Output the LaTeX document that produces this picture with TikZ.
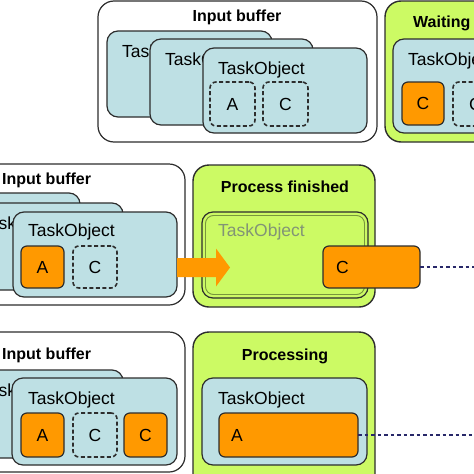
\documentclass[tikz,border=0pt]{standalone}
\usepackage{fontspec}
\setmainfont{Liberation Sans}
\definecolor{cardblue}{RGB}{190,224,228}
\definecolor{taskorange}{RGB}{255,153,0}
\definecolor{lime}{RGB}{204,250,100}
\definecolor{limerim}{RGB}{120,150,60}
\definecolor{edge}{RGB}{45,45,45}
\definecolor{navy}{RGB}{40,40,105}
\definecolor{fadetext}{RGB}{130,148,118}
\tikzset{
  rbox/.style={draw=edge, line width=1.2pt, inner sep=0pt, outer sep=0pt, anchor=north west},
  bufbox/.style={rbox, fill=white, rounded corners=16pt},
  stagebox/.style={rbox, fill=lime, line width=1.4pt, rounded corners=16pt},
  card/.style={rbox, fill=cardblue, rounded corners=11pt},
  donebox/.style={rbox, fill=lime, rounded corners=11pt},
  donerim/.style={rbox, draw=limerim, line width=0.9pt, rounded corners=8pt},
  slotfull/.style={rbox, fill=taskorange, rounded corners=6pt},
  slotempty/.style={rbox, draw=edge, dash pattern=on 4pt off 2.5pt, line width=1.6pt, rounded corners=6pt},
  title/.style={font=\fontsize{16}{19}\selectfont\bfseries, inner sep=0pt},
  lbl/.style={font=\fontsize{17.5}{20}\selectfont, inner sep=0pt, anchor=west},
  dotline/.style={draw=navy, line width=2pt, dash pattern=on 3.5pt off 3pt},
  movearrow/.style={fill=taskorange},
}
\newcommand\bx[7]{\node[#2, minimum width={#5-#3}, minimum height={#6-#4}] (#1) at (#3,#4) {#7};}
\begin{document}
\begin{tikzpicture}[x=1pt,y=-1pt]
\useasboundingbox (0,0) rectangle (474,474);
\clip (0,0) rectangle (474,474);
% ---------------- Row 1 ----------------
\bx{ibA}{bufbox}{98}{1}{377}{142}{}
\node[title] (ibAt) at (237,17) {Input buffer};
\bx{rAa}{card}{107}{31}{272}{117}{}
\node[lbl] (rAat) at (122,53) {TaskObject};
\bx{rAb}{card}{150}{39}{313}{125}{}
\node[lbl] (rAbt) at (165,61) {TaskObject};
\bx{rAc}{card}{203}{48}{367}{133}{}
\node[lbl] (rAct) at (218,70) {TaskObject};
\bx{rAsa}{slotempty}{210}{82}{255}{126}{}
\node[lbl,anchor=center] (rAsat) at (rAsa.center) {A};
\bx{rAsc}{slotempty}{263}{82}{308}{126}{}
\node[lbl,anchor=center] (rAsct) at (rAsc.center) {C};
\bx{wt}{stagebox}{385}{1}{520}{142}{}
\node[title,anchor=west] (wtt) at (413,23) {Waiting};
\bx{wtc}{card}{393}{39}{530}{133}{}
\node[lbl] (wtct) at (408,61) {TaskObject};
\bx{wts1}{slotfull}{402}{82}{444}{125}{}
\node[lbl,anchor=center] (wts1t) at (wts1.center) {C};
\bx{wts2}{slotempty}{453}{82}{498}{126}{}
\node[lbl,anchor=center] (wts2t) at (wts2.center) {C};
% ---------------- Row 2 ----------------
\bx{ibB}{bufbox}{-100}{164}{185}{305}{}
\node[title,anchor=west] (ibBt) at (2,180) {Input buffer};
\bx{rBa}{card}{-60}{193}{80}{282}{}
\node[lbl] (rBat) at (-45,215) {TaskObject};
\bx{rBb}{card}{-35}{203}{123}{290}{}
\node[lbl] (rBbt) at (-20,225) {TaskObject};
\bx{rBc}{card}{13}{212}{177}{297}{}
\node[lbl] (rBct) at (28,232) {TaskObject};
\bx{rBsa}{slotfull}{21}{246}{64}{288}{}
\node[lbl,anchor=center] (rBsat) at (rBsa.center) {A};
\bx{rBsc}{slotempty}{73}{246}{117}{288}{}
\node[lbl,anchor=center] (rBsct) at (rBsc.center) {C};
\bx{pf}{stagebox}{193}{165}{375}{307}{}
\node[title] (pft) at (285,187) {Process finished};
\bx{pfc}{donebox}{202}{212}{368}{298}{}
\bx{pfr}{donerim}{205.5}{215.5}{364.5}{294.5}{}
\node[lbl,text=fadetext] (pfct) at (218,232) {TaskObject};
\coordinate (mvs) at (rBc.east |- 0,267.5);
\fill[movearrow] (mvs) ++(0,-9.5) -- ++(39,0) -- ++(0,-9.5) -- ++(14,19) -- ++(-14,19)
  -- ++(0,-9.5) -- ++(-39,0) -- cycle;
\bx{pfs}{slotfull}{323}{246}{420}{288}{}
\node[lbl] (pfst) at (336,267) {C};
\coordinate (endB) at (476,267);
\draw[dotline] (pfs.east) -- (endB);
% ---------------- Row 3 ----------------
\bx{ibC}{bufbox}{-100}{332}{185}{472}{}
\node[title,anchor=west] (ibCt) at (2,355) {Input buffer};
\bx{rCb}{card}{-35}{370}{123}{458}{}
\node[lbl] (rCbt) at (-20,392) {TaskObject};
\bx{rCc}{card}{12}{378}{177}{465}{}
\node[lbl] (rCct) at (28,400) {TaskObject};
\bx{rCsa}{slotfull}{21}{413}{64}{457}{}
\node[lbl,anchor=center] (rCsat) at (rCsa.center) {A};
\bx{rCsc}{slotempty}{73}{413}{117}{457}{}
\node[lbl,anchor=center] (rCsct) at (rCsc.center) {C};
\bx{rCsd}{slotfull}{124}{413}{167}{457}{}
\node[lbl,anchor=center] (rCsdt) at (rCsd.center) {C};
\bx{pr}{stagebox}{193}{332}{375}{500}{}
\node[title] (prt) at (285,356) {Processing};
\bx{prc}{card}{202}{378}{367}{465}{}
\node[lbl] (prct) at (218,400) {TaskObject};
\bx{prs}{slotfull}{219}{413}{358}{457}{}
\node[lbl] (prst) at (231,435) {A};
\coordinate (endC) at (476,435);
\draw[dotline] (prs.east) -- (endC);
\end{tikzpicture}
\end{document}
